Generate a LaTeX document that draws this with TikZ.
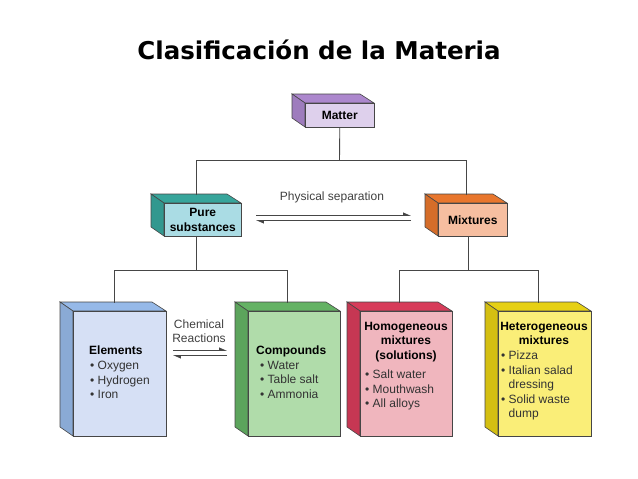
\documentclass[tikz,border=0pt]{standalone}
\usepackage{fontspec}
\setmainfont{Liberation Sans}
\newfontfamily\titlefont{DejaVu Sans}
\usetikzlibrary{arrows.meta,calc}
\definecolor{lnc}{RGB}{70,70,70}
\definecolor{mF}{RGB}{222,208,236}\definecolor{mS}{RGB}{172,135,205}
\definecolor{pF}{RGB}{170,220,228}\definecolor{pS}{RGB}{55,165,155}
\definecolor{xF}{RGB}{246,190,160}\definecolor{xS}{RGB}{232,118,45}
\definecolor{eF}{RGB}{214,224,245}\definecolor{eS}{RGB}{150,185,232}
\definecolor{cF}{RGB}{176,220,170}\definecolor{cS}{RGB}{100,178,100}
\definecolor{hF}{RGB}{240,182,190}\definecolor{hS}{RGB}{215,60,90}
\definecolor{tF}{RGB}{250,238,120}\definecolor{tS}{RGB}{230,208,20}
\newcommand\cube[7]{% name, x1,y1,x2,y2, front, side
  \fill[#7,draw=lnc,line width=0.6pt] (#2,#3)--(#4,#3)--(#4-14,#3-9)--(#2-13,#3-9)--cycle;
  \fill[#7!92!black,draw=lnc,line width=0.6pt] (#2,#3)--(#2,#5)--(#2-13,#5-9)--(#2-13,#3-9)--cycle;
  \node[draw=lnc,line width=0.6pt,fill=#6,minimum width=#4pt-#2pt,minimum height=#5pt-#3pt,inner sep=0,anchor=north west] (#1) at (#2,#3) {};
}
\tikzset{lbl/.style={font=\bfseries\fontsize{12}{14.5}\selectfont,align=center,inner sep=0},
 itm/.style={font=\fontsize{12}{14.5}\selectfont,align=left,inner sep=0,anchor=north west,text=black!80},
 ln/.style={draw=lnc,line width=0.9pt},
 hp/.style={draw=lnc,line width=0.8pt}}
\begin{document}
\begin{tikzpicture}[x=1pt,y=-1pt]
\useasboundingbox (0,0) rectangle (638,479);
\node[font=\titlefont\bfseries\fontsize{24.5}{28}\selectfont] (title) at (319,50) {Clasificación de la Materia};
\cube{mat}{305}{103}{374}{127}{mF}{mS}
\cube{pure}{164}{203}{241}{236}{pF}{pS}
\cube{mix}{438}{203}{507}{236}{xF}{xS}
\cube{ele}{73}{311}{166}{436}{eF}{eS}
\cube{com}{248}{311}{340}{436}{cF}{cS}
\cube{hom}{360}{311}{452}{436}{hF}{hS}
\cube{het}{498}{311}{591}{436}{tF}{tS}
\node[lbl] at (mat) {Matter};
\node[lbl] at (pure) {Pure\\substances};
\node[lbl] at (mix) {Mixtures};
% connectors
\coordinate (j1) at (339.5,160);
\coordinate (j1l) at (196,160);\coordinate (j1r) at (466,160);
\coordinate (j2) at (196,270);\coordinate (j2l) at (114,270);\coordinate (j2r) at (287,270);
\coordinate (j3) at (468,270);\coordinate (j3l) at (399,270);\coordinate (j3r) at (538,270);
\draw[ln] (mat.south) -- (j1);
\draw[ln] (j1l) -- (j1r);
\draw[ln] (j1l) -- ($(j1l|-pure.north)+(0,-8)$);
\draw[ln] (j1r) -- ($(j1r|-mix.north)+(0,-8)$);
\draw[ln] (j2|-pure.south) -- (j2);
\draw[ln] (j2l) -- (j2r);
\draw[ln] (j2l) -- ($(j2l|-ele.north)+(0,-8)$);
\draw[ln] (j2r) -- ($(j2r|-com.north)+(0,-8)$);
\draw[ln] (j3|-mix.south) -- (j3);
\draw[ln] (j3l) -- (j3r);
\draw[ln] (j3l) -- ($(j3l|-hom.north)+(0,-8)$);
\draw[ln] (j3r) -- ($(j3r|-het.north)+(0,-8)$);
% physical separation
\tikzset{hh/.tip={Stealth[harpoon,length=7pt,width=6pt,inset=0pt]}}
\coordinate (ps1) at (256,215.5);\coordinate (ps2) at (411,215.5);
\coordinate (ps3) at (256,220.5);\coordinate (ps4) at (411,220.5);
\draw[hp,-{hh}] (ps1) -- (ps2);
\draw[hp,-{hh}] (ps4) -- (ps3);
\node[font=\fontsize{12}{13}\selectfont,text=black!75] (pst) at (332,197) {Physical separation};
\coordinate (cr1) at (173,350.5);\coordinate (cr2) at (227,350.5);
\coordinate (cr3) at (173,355.5);\coordinate (cr4) at (227,355.5);
\draw[hp,-{hh}] (cr1) -- (cr2);
\draw[hp,-{hh}] (cr4) -- (cr3);
\node[font=\fontsize{12}{14}\selectfont,text=black!75,align=center] (crt) at (199,331) {Chemical\\Reactions};
% contents
\node[lbl,anchor=north west] (elt) at (89,346) {Elements};
\node[itm] (eli) at (90,361) {• Oxygen\\• Hydrogen\\• Iron};
\node[lbl,anchor=north west] (cot) at (256,346) {Compounds};
\node[itm] (coi) at (260,361) {• Water\\• Table salt\\• Ammonia};
\node[lbl,anchor=north] (hot) at (406,322) {Homogeneous\\mixtures\\(solutions)};
\node[itm] (hoi) at (365,370) {• Salt water\\• Mouthwash\\• All alloys};
\node[lbl,anchor=north] (htt) at (544,322) {Heterogeneous\\mixtures};
\node[itm] (hti) at (501,351) {• Pizza\\• Italian salad\\\phantom{• }dressing\\• Solid waste\\\phantom{• }dump};
\end{tikzpicture}
\end{document}
